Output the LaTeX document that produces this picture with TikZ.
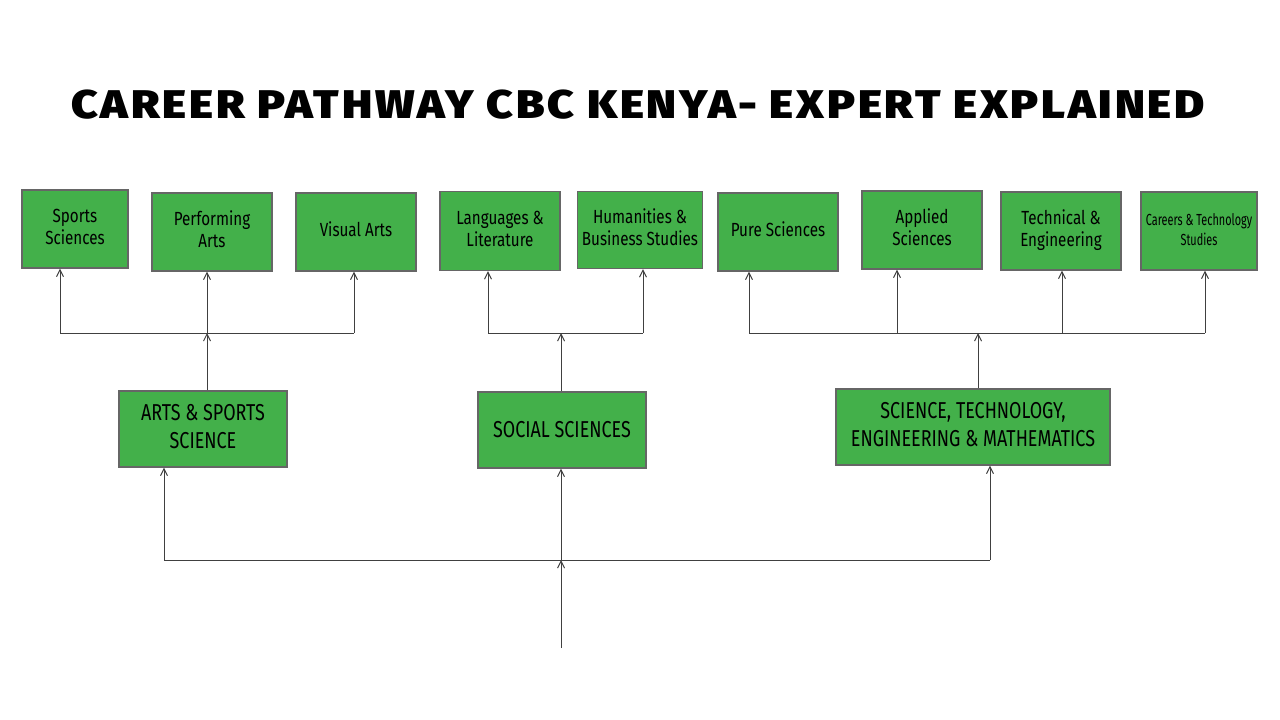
\documentclass[tikz,border=0pt]{standalone}
\usepackage{fontspec}
\setmainfont{Fira Sans}
\newfontfamily\titlefont{Fira Sans}[UprightFont=* Black, BoldFont=* Black, LetterSpace=6]
\usetikzlibrary{arrows.meta}
\definecolor{boxgreen}{HTML}{43B04A}
\begin{document}
\begin{tikzpicture}[x=1pt,y=-1pt,
  box/.style={draw=black!60,line width=1.2pt,fill=boxgreen,inner sep=0pt,align=center,font=\fontsize{19}{22}\selectfont},
  con/.style={draw=black!75,line width=1pt},
  arr/.style={con,-{Straight Barb[length=7pt,width=7pt]}}]
\useasboundingbox (0,0) rectangle (1280,720);
\node[font=\titlefont\fontsize{40}{44}\selectfont] (title) at (638,105) {\scalebox{1.15}[1]{CAREER PATHWAY CBC KENYA- EXPERT EXPLAINED}};
\newcommand\bx[6]{\node[box,minimum width=#3pt,minimum height=#4pt] (#1) at (#2,#5) {\scalebox{0.8}[1]{\begin{tabular}{c}#6\end{tabular}}};}
\bx{ss}{75}{106}{78}{229}{Sports\\Sciences}
\bx{pa}{212}{120}{78}{232}{Performing\\Arts}
\bx{va}{356}{120}{78}{232}{Visual Arts}
\bx{ll}{500}{120}{79}{231}{Languages \&\\Literature}
\bx{hb}{640}{120}{77}{230}{Humanities \&\\Business Studies}
\bx{ps}{778}{120}{78}{232}{Pure Sciences}
\bx{as}{922}{120}{78}{230}{Applied\\Sciences}
\bx{te}{1061}{120}{78}{231}{Technical \&\\Engineering}
\node[box,minimum width=116pt,minimum height=78pt,font=\fontsize{16}{20}\selectfont] (ct) at (1199,231) {\scalebox{0.68}[1]{\begin{tabular}{c}Careers \& Technology\\Studies\end{tabular}}};
\node[box,minimum width=168pt,minimum height=76pt,font=\fontsize{23}{28}\selectfont] (asp) at (203,429) {\scalebox{0.78}[1]{\begin{tabular}{c}ARTS \& SPORTS\\SCIENCE\end{tabular}}};
\node[box,minimum width=168pt,minimum height=76pt,font=\fontsize{23}{28}\selectfont] (soc) at (562,430) {\scalebox{0.78}[1]{SOCIAL SCIENCES}};
\node[box,minimum width=274pt,minimum height=76pt,font=\fontsize{23}{28}\selectfont] (stem) at (973,427) {\scalebox{0.78}[1]{\begin{tabular}{c}SCIENCE, TECHNOLOGY,\\ENGINEERING \& MATHEMATICS\end{tabular}}};
% branch 1
\coordinate (j1) at (207,333);
\draw[con] (60,333) -- (354,333);
\draw[arr] (60,333) -- (ss.south -| 60,0);
\draw[arr] (207,333) -- (pa.south -| 207,0);
\draw[arr] (354,333) -- (va.south -| 354,0);
\draw[arr] (asp.north -| 207,0) -- (j1);
% branch 2
\coordinate (j2) at (561,333);
\draw[con] (488,333) -- (643,333);
\draw[arr] (488,333) -- (ll.south -| 488,0);
\draw[arr] (643,333) -- (hb.south -| 643,0);
\draw[arr] (soc.north -| 561,0) -- (j2);
% branch 3
\coordinate (j3) at (978,333);
\draw[con] (749,333) -- (1205,333);
\draw[arr] (749,333) -- (ps.south -| 749,0);
\draw[arr] (897,333) -- (as.south -| 897,0);
\draw[arr] (1062,333) -- (te.south -| 1062,0);
\draw[arr] (1205,333) -- (ct.south -| 1205,0);
\draw[arr] (stem.north -| 978,0) -- (j3);
% bottom
\coordinate (b0) at (561,648);
\coordinate (b1) at (561,560);
\draw[con] (164,560) -- (990,560);
\draw[arr] (164,560) -- (asp.south -| 164,0);
\draw[arr] (561,560) -- (soc.south -| 561,0);
\draw[arr] (990,560) -- (stem.south -| 990,0);
\draw[arr] (b0) -- (b1);
\end{tikzpicture}
\end{document}
